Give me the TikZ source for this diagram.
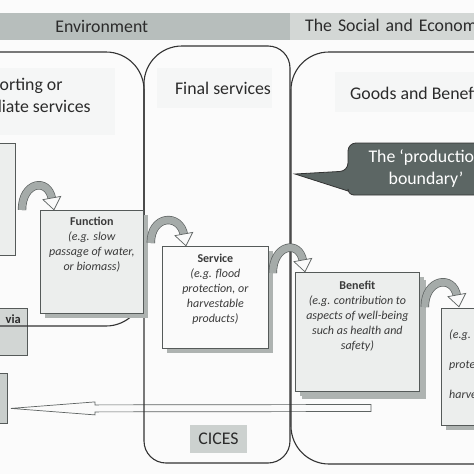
\documentclass[tikz,border=0pt]{standalone}
\usepackage{fontspec}
\setmainfont{Carlito}
\usetikzlibrary{positioning,calc,shadows}

\definecolor{pagebg}{HTML}{FBFBFB}
\definecolor{faintbg}{HTML}{F5F6F6}
\definecolor{hdrdark}{HTML}{B7BEBC}
\definecolor{hdrlight}{HTML}{D3D7D5}
\definecolor{linedark}{HTML}{333333}
\definecolor{boxline}{HTML}{555A59}
\definecolor{boxgray}{HTML}{ECEEED}
\definecolor{boxwhite}{HTML}{FAFAFA}
\definecolor{shadowgray}{HTML}{AEB3B1}
\definecolor{sidegray}{HTML}{D2D6D4}
\definecolor{lowgray}{HTML}{C9CECC}
\definecolor{calloutgray}{HTML}{5C6664}
\definecolor{cicesgray}{HTML}{CCD1CF}
\definecolor{textdark}{HTML}{2B2B2B}
\definecolor{textgray}{HTML}{3A3A3A}
\definecolor{arrowline}{HTML}{5E6362}
\definecolor{arrowfill}{HTML}{A5ABA9}

\tikzset{
  heading/.style={font=\fontsize{17.8}{22}\selectfont, text=textdark, inner sep=0pt},
  container/.style={draw=linedark, line width=1.1pt, rounded corners=#1},
  container/.default=38pt,
  esbox/.style={draw=boxline, line width=0.8pt, fill=boxgray, inner sep=0pt,
    drop shadow={shadow xshift=5pt, shadow yshift=-5pt, fill=shadowgray, opacity=1}},
  sidebox/.style={draw=boxline, line width=0.8pt, inner sep=0pt},
  estext/.style={align=center, inner sep=0pt, text=textgray, font=\fontsize{12}{15}\selectfont},
  bendband/.style={draw=arrowline, line width=0.7pt, double=arrowfill, double distance=7pt},
  bendhead/.style={fill=boxwhite, draw=arrowline, line width=0.7pt},
  bigarrow/.style={draw=arrowline, line width=0.7pt, fill=boxwhite},
}

% curved cascade arrow: band from #1 to #2, then a head turned along the end tangent
\newcommand{\bendarrow}[2]{%
  \draw[bendband] #1 .. controls +(0,-28) and +(-4,-22) .. #2;
  \filldraw[bendhead, shift={#2}, rotate=-79.7] (-1,-9) -- (11,0) -- (-1,9) -- cycle;}

\begin{document}
\begin{tikzpicture}[x=1pt, y=-1pt]
  \useasboundingbox (0,0) rectangle (474,474);
  \clip (0,0) rectangle (474,474);
  \fill[pagebg] (0,0) rectangle (474,474);

  % header bar
  \node[heading, fill=hdrdark, minimum width=376pt, minimum height=27pt, anchor=north east] (EnvHeader) at (290,13) {Environment};
  \node[heading, fill=hdrlight, minimum height=27pt, text width=270pt, inner xsep=15pt, align=left, anchor=north west] (SocHeader) at (290,13) {The Social and Economic System};

  % faint title panels
  \fill[faintbg] (-5,68) rectangle (115,135);
  \fill[faintbg] (157,68) rectangle (272,108);
  \fill[faintbg] (335,72) rectangle (480,112);

  % boxes at the left edge
  \node[sidebox, fill=boxgray, minimum width=30pt, minimum height=112pt, anchor=north east] (LeftTop) at (16,143) {};
  \node[sidebox, fill=sidegray, minimum width=40pt, minimum height=47pt, anchor=north east] (ViaBox) at (28,308) {};
  \node[font=\bfseries\fontsize{12.5}{15}\selectfont, text=textdark, inner sep=0pt, anchor=east] (ViaTxt) at (21,319) {via};
  \node[sidebox, fill=lowgray, minimum width=30pt, minimum height=50pt, anchor=north east] (LowBox) at (8,373) {};

  % long arrow back to the left
  \coordinate (ArrowTip) at ($(LowBox.east)+(3,10)$);
  \coordinate (ArrowTail) at (371,408);
  \draw[bigarrow] ($(ArrowTail)+(0,-3.5)$) -- ($(ArrowTip)+(84,-3.5)$) -- ($(ArrowTip)+(84,-6.5)$) -- (ArrowTip)
    -- ($(ArrowTip)+(84,6.5)$) -- ($(ArrowTip)+(84,3.5)$) -- ($(ArrowTail)+(0,3.5)$) -- cycle;

  % the three containers
  \draw[container] (-20,52) -- (144,52) -- (144,326) -- (-20,326);
  \draw[container] (144,300) [rounded corners=38pt] -- (144,46) [rounded corners=22pt] -- (290,46) -- (290,463) -- (144,463) -- cycle;
  \draw[container] (520,52) -- (291,52) -- (291,464) -- (520,464);

  \node[heading, align=center] (SupTitle) at (13,95) {Supporting or\\intermediate services};
  \node[heading] (FinalTitle) at (223,88) {Final services};
  \node[heading, anchor=west] (GoodsTitle) at (350,93) {Goods and Benefits};

  % production boundary callout
  \filldraw[fill=calloutgray, draw=linedark, line width=0.8pt] (500,143) [rounded corners=8pt] -- (348,143) -- (348,171)
    [sharp corners] -- (295,174) -- (348,191) [rounded corners=6pt] -- (348,195) -- (500,195) -- cycle;
  \node[heading, text=white, align=center] (Callout) at (426,169) {The ‘production\\boundary’};

  % cascade boxes
  \node[esbox, minimum width=103pt, minimum height=103pt, anchor=north west] (Function) at (40,210) {};
  \node[estext, below=6.5pt of Function.north] (FunctionTxt) {\textbf{Function}\\\textit{(e.g. slow}\\\textit{passage of water,}\\\textit{or biomass)}};
  \node[esbox, fill=boxwhite, minimum width=106pt, minimum height=102pt, anchor=north west] (Service) at (162,246) {};
  \node[estext, below=7.5pt of Service.north] (ServiceTxt) {\textbf{Service}\\\textit{(e.g. flood}\\\textit{protection, or}\\\textit{harvestable}\\\textit{products)}};
  \node[esbox, minimum width=124pt, minimum height=119pt, anchor=north west,
    drop shadow={shadow xshift=7pt, shadow yshift=-8pt, fill=shadowgray, opacity=1}] (Benefit) at (295,272) {};
  \node[estext, below=8.5pt of Benefit.north] (BenefitTxt) {\textbf{Benefit}\\\textit{(e.g. contribution to}\\\textit{aspects of well-being}\\\textit{such as health and}\\\textit{safety)}};
  \node[esbox, minimum width=130pt, minimum height=117pt, anchor=north west] (Value) at (441,308) {};
  \node[estext, align=left, anchor=north west] (ValueTxt) at (449,330) {\textit{(e.g.}\\[15pt]\textit{protection,}\\[15pt]\textit{harvestable}};

  % curved arrows of the cascade
  \bendarrow{($(LeftTop.east |- Function.north)+(6,0)$)}{($(Function.north west)+(12,-11)$)}
  \bendarrow{($(Function.north east)+(7,33)$)}{($(Service.north west)+(22,-11)$)}
  \bendarrow{($(Service.north east)+(4,27)$)}{($(Benefit.north west)+(8,-11)$)}
  \bendarrow{($(Benefit.north east)+(5,35)$)}{($(Value.north west)+(16,-12)$)}

  \node[heading, fill=cicesgray, minimum width=57pt, minimum height=28pt] (Cices) at (218.5,439) {CICES};
\end{tikzpicture}
\end{document}
